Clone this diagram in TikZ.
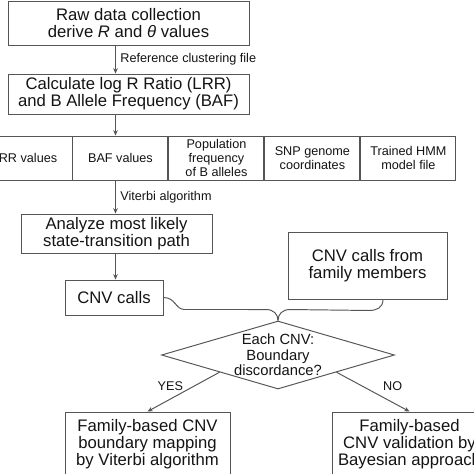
\documentclass[tikz,border=0pt]{standalone}
\usepackage{fontspec}
\setmainfont{Liberation Sans}
\usepackage{tikz}
\usetikzlibrary{shapes.geometric, arrows.meta, positioning, calc}
\definecolor{mygray}{RGB}{85,85,85}
\definecolor{mytext}{RGB}{20,20,20}
\tikzset{
  block/.style={rectangle, draw=mygray, fill=white, align=center,
    inner sep=0pt, text=mytext, line width=0.55pt,
    font=\fontsize{9.5}{9.6}\selectfont},
  cell/.style={rectangle, draw=mygray, fill=white, align=center,
    minimum width=1.9cm, minimum height=0.88cm, inner sep=0pt,
    text=mytext, line width=0.55pt, font=\fontsize{7.2}{7.7}\selectfont},
  decision/.style={diamond, draw=mygray, fill=white, align=center,
    minimum width=4.66cm, minimum height=1.36cm, aspect=3.43,
    inner sep=0pt, text=mytext, line width=0.55pt,
    font=\fontsize{8.4}{8.8}\selectfont},
  lbl/.style={font=\fontsize{7.2}{7.7}\selectfont, text=mytext, inner sep=0pt},
  arrow/.style={-{Stealth[length=3pt, width=2.6pt]}, line width=0.55pt, color=mygray},
  line/.style={line width=0.55pt, color=mygray}
}

\begin{document}
\begin{tikzpicture}[x=0.2mm, y=-0.2mm]
  \fill[white] (0,0) rectangle (474,474);
  \useasboundingbox (0,0) rectangle (474,474);
  \clip (0,0) rectangle (474,474);

  % Input processing
  \node[block, minimum width=4.82cm, minimum height=0.88cm] (raw) at (128.5,23)
    {Raw data collection\\derive \textit{R} and \textit{θ} values};
  \node[block, minimum width=4.82cm, minimum height=0.8cm] (calc) at (128.5,94)
    {Calculate log R Ratio (LRR)\\and B Allele Frequency (BAF)};

  % Data row
  \node[cell] (lrr) at (24.5,158) {LRR values};
  \node[cell, right=0pt of lrr] (baf) {BAF values};
  \node[cell, right=0pt of baf] (popf) {Population\\frequency\\of B alleles};
  \node[cell, right=0pt of popf] (snp) {SNP genome\\coordinates};
  \node[cell, right=0pt of snp] (hmm) {Trained HMM\\model file};

  % Path and calls
  \node[block, minimum width=3.82cm, minimum height=0.78cm] (path) at (116.5,233.5)
    {Analyze most likely\\state-transition path};
  \node[block, minimum width=1.96cm, minimum height=0.7cm] (cnv) at (114,297.5) {CNV calls};
  \node[block, minimum width=3.18cm, minimum height=1.34cm] (fam) at (367.5,265.5)
    {CNV calls from\\family members};

  % Decision
  \node[decision] (dec) at (278,355) {Each CNV:\\Boundary\\discordance?};

  % Outcomes
  \node[block, minimum width=3.3cm, minimum height=1.28cm] (viterbi) at (147.5,444)
    {Family-based CNV\\boundary mapping\\by Viterbi algorithm};
  \node[block, minimum width=3.1cm, minimum height=1.28cm] (bayes) at (409.5,444)
    {Family-based\\CNV validation by\\Bayesian approach};

  % Main flow
  \coordinate (spine) at (115.5,0);
  \draw[arrow] (raw.south -| spine) -- (calc.north -| spine)
    node[lbl, midway, right=2.5pt] {Reference clustering file};
  \draw[arrow] (calc.south -| spine) -- (baf.north -| spine);
  \draw[arrow] (baf.south -| spine) -- (path.north -| spine)
    node[lbl, midway, right=2.5pt] {Viterbi algorithm};
  \draw[arrow] (path.south -| spine) -- (cnv.north -| spine);

  % Brace joining the calls
  \draw[line] (cnv.east) .. controls +(12,0) and +(-9,0) .. ++(21,12)
    -- ($(dec.north)+(-12,-11)$) .. controls +(8,0) and +(0,-6) .. (dec.north);
  \draw[line] ($(fam.south)+(15.5,0)$) .. controls +(0,8) and +(8,0) .. ++(-14,11)
    -- ($(dec.north)+(12,-11)$) .. controls +(-8,0) and +(0,-6) .. (dec.north);

  % Branches
  \draw[arrow] (dec.south west) -- (viterbi.north)
    node[lbl, midway, anchor=east, yshift=3pt] {YES};
  \draw[arrow] (dec.south east) -- (bayes.north)
    node[lbl, midway, anchor=west, xshift=5.5pt, yshift=3pt] {NO};
\end{tikzpicture}
\end{document}
